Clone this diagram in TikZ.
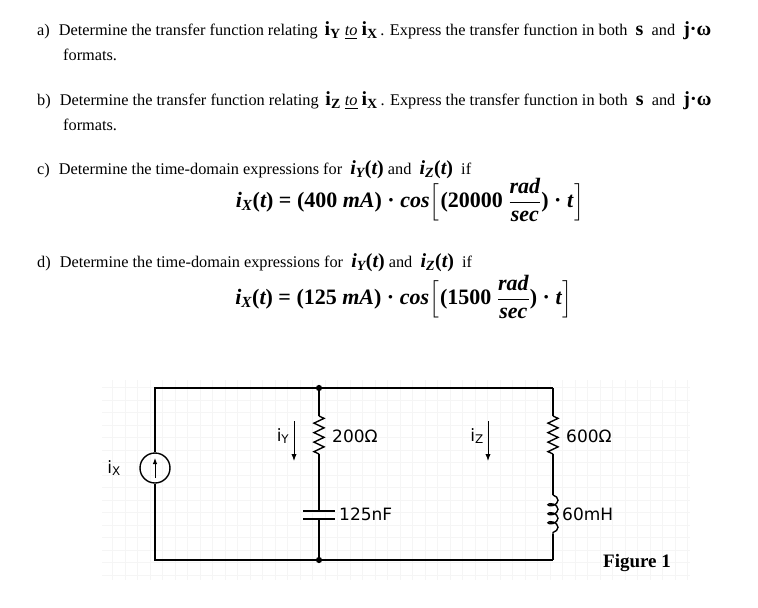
\documentclass[tikz,border=0pt]{standalone}
\usepackage{fontspec}
\setmainfont{Liberation Serif}
\newfontfamily\circfont{DejaVu Sans}
\usepackage{amsmath}
\usetikzlibrary{arrows.meta,decorations.pathmorphing}
\begin{document}
\begin{tikzpicture}[x=1pt,y=-1pt,
  txt/.style={anchor=west,inner sep=0pt,font=\fontsize{16.3}{18}\selectfont},
  eq/.style={inner sep=0pt,font=\fontsize{22}{24}\selectfont\bfseries},
  lab/.style={inner sep=0pt,font=\circfont\fontsize{17}{19}\selectfont},
  wire/.style={line width=1.4pt},
  dot/.style={circle,fill,inner sep=2.2pt}]
\useasboundingbox (0,0) rectangle (758,608);
\newcommand{\bi}[2]{\textbf{#1}\textsubscript{\textbf{#2}}}
\newcommand{\bigsz}{\fontsize{20}{20}\selectfont}
\node[txt] (la) at (37,31) {a)\hspace{9pt}Determine the transfer function relating \,{\bigsz\bi{i}{Y}} \underline{\textit{to}} {\bigsz\bi{i}{X}}\,. Express the transfer function in both \ {\bigsz\textbf{s}} \ and \ {\bigsz\textbf{j·ω}}};
\node[txt] (la2) at (63,55) {formats.};
\node[txt] (lb) at (37,101) {b)\hspace{9pt}Determine the transfer function relating \,{\bigsz\bi{i}{Z}} \underline{\textit{to}} {\bigsz\bi{i}{X}}\,. Express the transfer function in both \ {\bigsz\textbf{s}} \ and \ {\bigsz\textbf{j·ω}}};
\node[txt] (lb2) at (63,125) {formats.};
\node[txt] (lc) at (37,170) {c)\hspace{9pt}Determine the time-domain expressions for \ {\bigsz\bfseries\itshape i\textsubscript{Y}\upshape(\itshape t\upshape)} and \ {\bigsz\bfseries\itshape i\textsubscript{Z}\upshape(\itshape t\upshape)} \ if};
\node[eq] (ec) at (410,200) {\itshape i\textsubscript{X}\upshape(\itshape t\upshape) = (400 \itshape mA\upshape) · \itshape cos\upshape$\left[\vphantom{\dfrac{a}{b}}\right.$(20000 $\dfrac{\text{\bfseries\itshape rad}}{\text{\bfseries\itshape sec}}$) · \itshape t\upshape$\left.\vphantom{\dfrac{a}{b}}\right]$};
\node[txt] (ld) at (37,263) {d)\hspace{9pt}Determine the time-domain expressions for \ {\bigsz\bfseries\itshape i\textsubscript{Y}\upshape(\itshape t\upshape)} and \ {\bigsz\bfseries\itshape i\textsubscript{Z}\upshape(\itshape t\upshape)} \ if};
\node[eq] (ed) at (404,297) {\itshape i\textsubscript{X}\upshape(\itshape t\upshape) = (125 \itshape mA\upshape) · \itshape cos\upshape$\left[\vphantom{\dfrac{a}{b}}\right.$(1500 $\dfrac{\text{\bfseries\itshape rad}}{\text{\bfseries\itshape sec}}$) · \itshape t\upshape$\left.\vphantom{\dfrac{a}{b}}\right]$};
% grid
\draw[black!4,step=12.5pt] (102,380) grid (690,580);
% circuit
\coordinate (tl) at (155,388); \coordinate (tm) at (319,388); \coordinate (tr) at (553,388);
\coordinate (bl) at (155,560); \coordinate (bm) at (319,560); \coordinate (br) at (553,560);
\node[circle,draw,line width=1.4pt,minimum size=30pt,inner sep=0pt] (src) at (155,468) {};
\draw[wire] (src.north) -- (tl) -- (tr);
\draw[wire] (src.south) -- (bl) -- (br);
\draw[-{Latex[length=6pt]},line width=1pt] (155,478) -- (155,458);
\node[dot] (n1) at (tm) {}; \node[dot] (n2) at (bm) {};
% middle branch
\coordinate (r1a) at (319,416); \coordinate (r1b) at (319,454);
\draw[wire] (tm) -- (r1a);
\draw[wire,decorate,decoration={zigzag,segment length=9.5pt,amplitude=5pt}] (r1a) -- (r1b);
\coordinate (c1) at (319,511); \coordinate (c2) at (319,519);
\draw[wire] (r1b) -- (c1); \draw[wire] (c2) -- (bm);
\draw[wire] (303,511) -- (335,511); \draw[wire] (303,519) -- (335,519);
% right branch
\coordinate (r2a) at (553,416); \coordinate (r2b) at (553,454);
\draw[wire] (tr) -- (r2a);
\draw[wire,decorate,decoration={zigzag,segment length=9.5pt,amplitude=5pt}] (r2a) -- (r2b);
\coordinate (la1) at (553,495); \coordinate (la3) at (553,534);
\draw[wire] (r2b) -- (la1);
\draw[wire,decorate,decoration={coil,segment length=9pt,amplitude=5pt,aspect=0.6}] (la1) -- (la3);
\draw[wire] (la3) -- (br);
% labels
\node[lab,anchor=west] (lr1) at (332,436) {200Ω};
\node[lab,anchor=west] (lcap) at (339,514) {125nF};
\node[lab,anchor=west] (lr2) at (566,436) {600Ω};
\node[lab,anchor=west] (lind) at (562,514) {60mH};
\node[lab] (liy) at (283,436) {i\textsubscript{Y}};
\node[lab] (liz) at (477,436) {i\textsubscript{Z}};
\node[lab] (lix) at (114,468) {i\textsubscript{X}};
\draw[-{Latex[length=7pt]},line width=1pt] (294,421) -- (294,461);
\draw[-{Latex[length=7pt]},line width=1pt] (488,421) -- (488,461);
\node[inner sep=0pt,font=\fontsize{19}{21}\selectfont\bfseries] (fig) at (637,563) {Figure 1};
\end{tikzpicture}
\end{document}
